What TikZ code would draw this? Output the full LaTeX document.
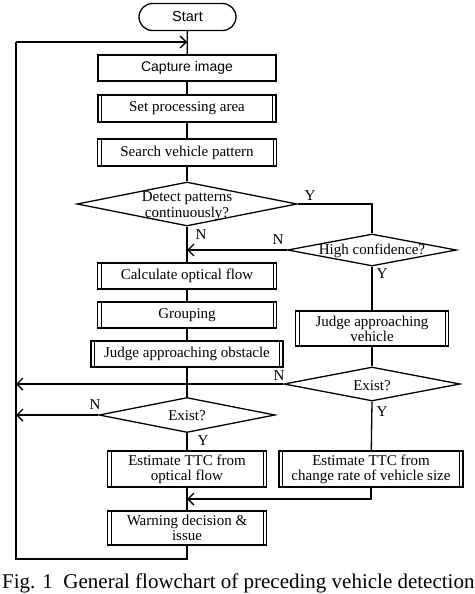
\documentclass[tikz,border=0pt]{standalone}
\usepackage{fontspec}
\setmainfont{Liberation Serif}
\newfontfamily\gothic{Liberation Sans}
\usetikzlibrary{shapes.geometric,shapes.misc,arrows.meta}
\tikzset{
  every node/.style={font=\fontsize{15}{15}\selectfont},
  ln/.style={line width=1.3pt},
  arr/.style={ln,-{Straight Barb[length=6pt,width=12pt,line width=1.3pt]}},
  plainbox/.style={draw,ln,inner sep=1pt},
  proc/.style={draw,ln,inner sep=1pt,align=center,
    path picture={
      \draw[line width=0.9pt] ([xshift=3.5pt]path picture bounding box.north west) -- ([xshift=3.5pt]path picture bounding box.south west);
      \draw[line width=0.9pt] ([xshift=-3.5pt]path picture bounding box.north east) -- ([xshift=-3.5pt]path picture bounding box.south east);}},
  dia/.style={draw,ln,diamond,inner sep=0pt},
  yn/.style={font=\fontsize{15}{15}\selectfont,inner sep=0pt},
}
\begin{document}
\begin{tikzpicture}[x=1pt,y=-1pt]
\useasboundingbox (0,0) rectangle (474,594);
% nodes
\node[draw,ln,rounded rectangle,minimum width=97pt,minimum height=27pt,inner sep=0pt,font=\gothic\fontsize{14.5}{14}\selectfont] (start) at (187.5,17) {Start};
\node[plainbox,minimum width=178pt,minimum height=26pt,font=\gothic\fontsize{14}{14}\selectfont] (cap) at (187,68) {Capture image};
\node[proc,minimum width=178pt,minimum height=27pt] (set) at (187,108.5) {Set processing area};
\node[proc,minimum width=179pt,minimum height=27pt] (search) at (187,152.5) {Search vehicle pattern};
\node[dia,minimum width=220pt,minimum height=44pt] (d1) at (187,204) {};
\node[align=center,inner sep=0pt] (d1t) at (187,206) {Detect patterns\\[1pt]continuously?};
\node[dia,minimum width=169pt,minimum height=32pt] (hc) at (372,250) {};
\node[inner sep=0pt] (hct) at (372,251) {High confidence?};
\node[proc,minimum width=179pt,minimum height=26pt] (calc) at (187,276) {Calculate optical flow};
\node[proc,minimum width=179pt,minimum height=26pt] (grp) at (187,315) {Grouping};
\node[proc,minimum width=192pt,minimum height=26pt] (judge) at (187,354) {Judge approaching obstacle};
\node[proc,minimum width=153pt,minimum height=35pt] (jv) at (372,328.5) {Judge approaching\\vehicle};
\node[dia,minimum width=176pt,minimum height=34pt] (ex2) at (372,384) {};
\node[inner sep=0pt] (ex2t) at (372,386) {Exist?};
\node[dia,minimum width=176pt,minimum height=35pt] (ex1) at (187,415) {};
\node[inner sep=0pt] (ex1t) at (187,416) {Exist?};
\node[proc,minimum width=159pt,minimum height=36pt] (ttc1) at (187,469) {Estimate TTC from\\optical flow};
\node[proc,minimum width=184pt,minimum height=36pt] (ttc2) at (371,469) {Estimate TTC from\\change rate of vehicle size};
\node[proc,minimum width=159pt,minimum height=34pt] (warn) at (187,528) {Warning decision \&\\issue};
% coordinates
\coordinate (loopT) at (16,42);
\coordinate (loopB) at (16,559);
\coordinate (join) at (187,42);
\coordinate (merge) at (187,499);
% connectors
\draw[ln] (start) -- (cap);
\draw[ln] (cap) -- (set);
\draw[ln] (set) -- (search);
\draw[ln] (search) -- (d1);
\draw[ln] (d1.south) -- (calc);
\draw[ln] (d1.east) -| (hc.north);
\draw[arr] (hc.west) -- (hc.west -| d1.south);
\draw[ln] (hc.south) -- (jv);
\draw[ln] (jv) -- (ex2.north);
\draw[ln] (calc) -- (grp);
\draw[ln] (grp) -- (judge);
\draw[ln] (judge) -- (ex1.north);
\draw[arr] (ex2.west) -- (ex2.west -| loopT);
\draw[arr] (ex1.west) -- (ex1.west -| loopT);
\draw[ln] (ex1.south) -- (ttc1);
\draw[ln] (ex2.south) -- (ttc2);
\draw[ln] (ttc1) -- (warn);
\draw[arr] (ttc2.south) |- (merge);
\draw[ln] (warn.south) |- (loopB) -- (loopT);
\draw[arr] (loopT) -- (join);
% labels
\node[yn] (l1) at (310,196) {Y};
\node[yn] (l2) at (201,235) {N};
\node[yn] (l3) at (278,240) {N};
\node[yn] (l4) at (382,274) {Y};
\node[yn] (l5) at (279,376) {N};
\node[yn] (l6) at (382,412) {Y};
\node[yn] (l7) at (95,405) {N};
\node[yn] (l8) at (203,441) {Y};
% caption
\node[anchor=base west,inner sep=0pt,font=\fontsize{21}{21}\selectfont] (cap1) at (2,588) {Fig. 1\ \ General flowchart of preceding vehicle detection};
\end{tikzpicture}
\end{document}
